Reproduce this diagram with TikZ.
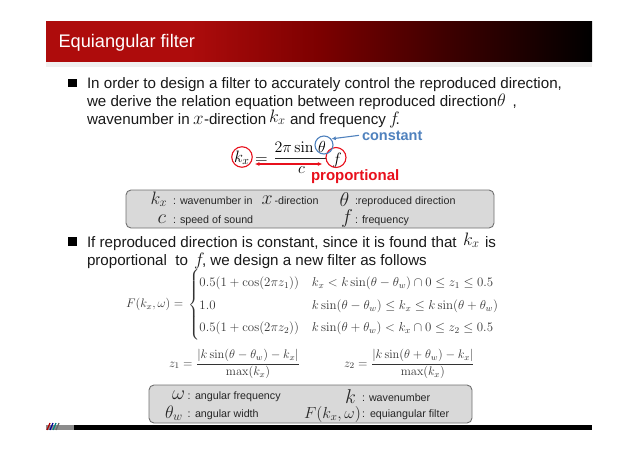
\RequirePackage{fix-cm}
\documentclass[tikz,border=0pt]{standalone}
\usepackage{amsmath,amssymb}
\usepackage[no-math]{fontspec}
\setmainfont{Liberation Sans}
\usetikzlibrary{arrows.meta,calc}
\definecolor{bannerA}{HTML}{AE0C0C}
\definecolor{bannerB}{HTML}{7C0000}
\definecolor{bannerC}{HTML}{3C0000}
\definecolor{legendgray}{HTML}{D9D9D9}
\definecolor{legendedge}{HTML}{707070}
\definecolor{myblue}{HTML}{4F81BD}
\definecolor{myred}{HTML}{E8101C}
\pgfdeclarehorizontalshading{bannershade}{100bp}{color(0bp)=(bannerA);color(25bp)=(bannerA);color(38bp)=(bannerA);color(50bp)=(bannerB);color(62bp)=(bannerC);color(75bp)=(black);color(100bp)=(black)}
\newcommand{\bigmath}[2][18]{{\fontsize{#1}{#1}\selectfont$#2$}}
\tikzset{
 txt/.style={anchor=base west,inner sep=0pt,outer sep=0pt},
 body/.style={txt,font=\fontsize{15.15}{18}\selectfont,text=black!90},
 leg/.style={txt,font=\fontsize{10.7}{13}\selectfont,text=black!85},
 legbox/.style={draw=legendedge,line width=0.9pt,fill=legendgray,rounded corners=5pt},
 ring/.style={circle,draw,line width=1.1pt,minimum size=20pt,inner sep=0pt},
 eqn/.style={txt,font=\fontsize{14.5}{18}\selectfont},
 mth/.style={txt,font=\fontsize{12.4}{14}\selectfont,text=black!80},
 mthb/.style={txt,font=\fontsize{12.9}{14}\selectfont,text=black!80},
}
\begin{document}
\begin{tikzpicture}[x=1pt,y=-1pt]
\useasboundingbox (0,0) rectangle (638,451);
% banner
\fill[black!6] (46,61) rectangle (592,67);
\shade[shading=bannershade] (46,21) rectangle (592,61);
\node[txt,text=white,font=\fontsize{18.2}{22}\selectfont] (title) at (58.5,47.5) {Equiangular filter};
% footer
\fill[black] (62,425) rectangle (592,430);
\fill[black!45] (46,425) rectangle (74,430);
\foreach \xx/\cc in {47/red!70!black,50/blue!60!black,53/teal,56/black!60}
  \draw[\cc,line width=1.2pt] (\xx,430) -- (\xx+3,423);
% bullets
\fill[black] (68,78.5) rectangle (76.5,87);
\fill[black] (68,237) rectangle (76.5,245.5);
% text
\node[body] (l1) at (87,88) {In order to design a filter to accurately control the reproduced direction,};
\node[body] (l2) at (87,106) {we derive the relation equation between reproduced direction\bigmath{\theta}\ \,,};
\node[body] (l3a) at (87,124) {wavenumber in};
\node[body] (l3b) at (193,124) {\bigmath[19]{x}};
\node[body] (l3c) at (204,124) {-direction};
\node[body] (l3d) at (269,122) {\bigmath{k_x}};
\node[body] (l3e) at (290,124) {and frequency};
\node[body] (l3f) at (389,124) {\bigmath{f}};
\node[body] (l3g) at (395.5,124) {.};
\node[body] (l4a) at (87,247) {If reproduced direction is constant, since it is found that};
\node[body] (l4b) at (463,245) {\bigmath{k_x}};
\node[body] (l4c) at (485,247) {is};
\node[body] (l5a) at (87,265) {proportional\ \ to};
\node[body] (l5b) at (194,265) {\bigmath{f}};
\node[body] (l5c) at (202,265) {, we design a new filter as follows};
% equation
\node[eqn] (eqk) at (234,162) {\bigmath[16.5]{k_x}};
\node[eqn] (eqeq) at (255,163) {\bigmath[16.5]{=}};
\node[eqn] (eqnum) at (274.5,152) {\bigmath[16]{2\pi\sin}};
\node[eqn] (eqth) at (318,152) {\bigmath[16]{\theta}};
\node[eqn] (eqf) at (332,164) {\bigmath[16.5]{f}};
\node[eqn] (eqc) at (298,173) {\bigmath[16]{c}};
\coordinate (barl) at (275,158); \coordinate (barr) at (326,158);
\draw[black!85,line width=0.7pt] (barl) -- (barr);
\node[ring,draw=myred,minimum size=20.5pt] (rk) at (242,157) {};
\node[ring,draw=myred] (rf) at (336,157.5) {};
\node[ring,draw=myblue,minimum size=18pt] (rth) at (324,145) {};
\node[txt,text=myblue,font=\bfseries\fontsize{14.5}{18}\selectfont] (const) at (362,140) {constant};
\node[txt,text=myred,font=\bfseries\fontsize{15}{18}\selectfont] (prop) at (311,180) {proportional};
\draw[myblue,line width=1.1pt,-{Latex[length=4.5pt,width=4pt]}] ($(const.west)+(-3,0)$) -- (rth.40);
\draw[myred,line width=1.1pt,{Latex[length=4.5pt,width=4pt]}-{Latex[length=4.5pt,width=4pt]}] ($(rk.east)+(2,7)$) -- ($(rf.west)+(-3,6.5)$);
% legend 1
\draw[legbox] (126,190) rectangle (494,228);
\node[leg] (a1) at (150.5,204) {\bigmath[18]{k_x}};
\node[leg] (a2) at (173,204) {:};
\node[leg] (a3) at (180,204) {wavenumber in};
\node[leg] (a4) at (261.5,204) {\bigmath[20]{x}};
\node[leg] (a5) at (274.5,204) {-direction};
\node[leg] (a6) at (157.5,223) {\bigmath[20]{c}};
\node[leg] (a7) at (173,223) {:};
\node[leg] (a8) at (180,223) {speed of sound};
\node[leg] (a9) at (339.5,206) {\bigmath[20]{\theta}};
\node[leg] (a10) at (355,204) {:reproduced direction};
\node[leg] (a11) at (341,223) {\bigmath[20]{f}};
\node[leg] (a12) at (355,223) {:};
\node[leg] (a13) at (362,223) {frequency};
% piecewise
\node[mth] (pwf) at (126,307.5) {$F(k_x,\omega)=$};
\node[mthb] (pw) at (188,308) {$\renewcommand{\arraystretch}{1.6}\left\{\begin{array}{@{}l@{\hspace{13pt}}l@{}}
0.5(1+\cos(2\pi z_1)) & k_x<k\sin(\theta-\theta_w)\cap 0\le z_1\le 0.5\\
1.0 & k\sin(\theta-\theta_w)\le k_x\le k\sin(\theta+\theta_w)\\
0.5(1+\cos(2\pi z_2)) & k\sin(\theta+\theta_w)<k_x\cap 0\le z_2\le 0.5
\end{array}\right.$};
\node[mth] (z1) at (169,367) {$z_1=\dfrac{|k\sin(\theta-\theta_w)-k_x|}{\max(k_x)}$};
\node[mth] (z2) at (344,367) {$z_2=\dfrac{|k\sin(\theta+\theta_w)-k_x|}{\max(k_x)}$};
% legend 2
\draw[legbox] (149,385) rectangle (472,423);
\node[leg] (b1) at (172,399) {\bigmath[20]{\omega}};
\node[leg] (b2) at (187.5,399) {:};
\node[leg] (b3) at (195,399) {angular frequency};
\node[leg] (b4) at (165,418) {\bigmath[18]{\theta_w}};
\node[leg] (b5) at (187.5,417) {:};
\node[leg] (b6) at (195,417) {angular width};
\node[leg] (b7) at (345,403) {\bigmath[20]{k}};
\node[leg] (b8) at (362,401) {:};
\node[leg] (b9) at (369,401) {wavenumber};
\node[leg] (b10) at (304,418) {\bigmath[16]{F(k_x,\omega)}};
\node[leg] (b11) at (362,417) {:};
\node[leg] (b12) at (370,417) {equiangular filter};
\end{tikzpicture}
\end{document}
